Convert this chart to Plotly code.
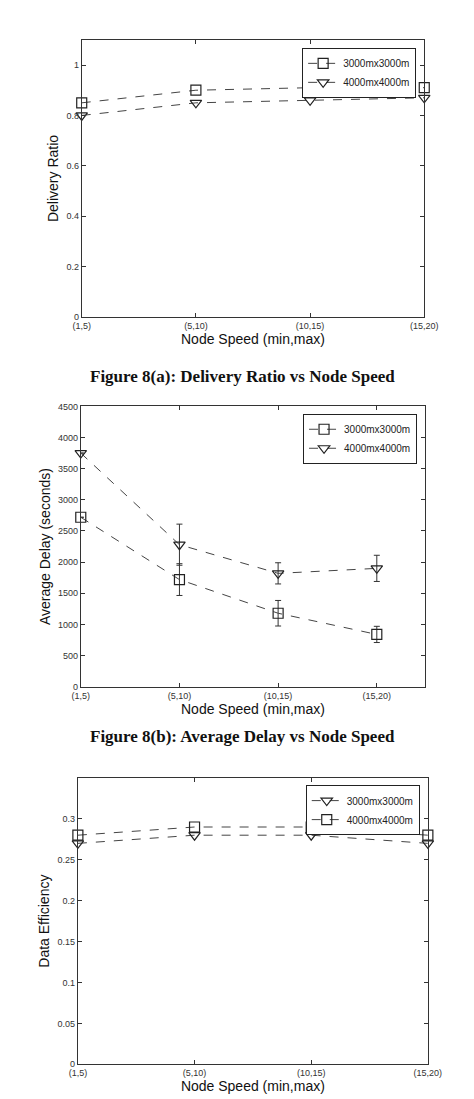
import plotly.graph_objects as go

# Node speed categories
speed_labels = ['(1,5)', '(5,10)', '(10,15)', '(15,20)']
speed_pos = [0, 1, 2, 3]

# Fig 8(a) delivery ratio
ratio_3000 = [0.85, 0.90, 0.91, 0.91]
ratio_4000 = [0.80, 0.85, 0.86, 0.87]

# Fig 8(b) average delay (seconds) with error bars
delay_3000 = [2720, 1720, 1180, 840]
delay_3000_err = [0, 255, 205, 130]
delay_4000 = [3750, 2280, 1820, 1900]
delay_4000_err = [0, 330, 170, 210]

# Fig 8(c) data efficiency
eff_3000 = [0.27, 0.28, 0.28, 0.27]
eff_4000 = [0.28, 0.29, 0.29, 0.28]

FONT = 'Liberation Sans'
line_style = dict(color='#444', width=1, dash='dash')

fig = go.Figure()


def add(x_ax, y_ax, ys, name, sym, err=None, legend='legend'):
    fig.add_trace(go.Scatter(
        x=speed_pos, y=ys, name=name, xaxis=x_ax, yaxis=y_ax,
        mode='lines+markers', line=line_style, cliponaxis=False,
        marker=dict(symbol=sym, size=10, color='rgba(255,255,255,0)',
                    line=dict(color='#222', width=1.2)),
        error_y=dict(type='data', array=err, color='#333', thickness=1, width=3,
                     visible=err is not None),
        legend=legend,
    ))


add('x', 'y', ratio_3000, '3000mx3000m', 'square')
add('x', 'y', ratio_4000, '4000mx4000m', 'triangle-down')
add('x2', 'y2', delay_3000, '3000mx3000m', 'square', delay_3000_err, 'legend2')
add('x2', 'y2', delay_4000, '4000mx4000m', 'triangle-down', delay_4000_err, 'legend2')
add('x3', 'y3', eff_3000, '3000mx3000m', 'triangle-down', legend='legend3')
add('x3', 'y3', eff_4000, '4000mx4000m', 'square', legend='legend3')

axis_common = dict(showline=True, mirror='ticks', linecolor='#333', linewidth=1,
                   ticks='inside', ticklen=4, tickcolor='#333', showgrid=False,
                   zeroline=False, tickfont=dict(family=FONT, size=9, color='#333'))
xaxis_common = dict(axis_common, tickmode='array', tickvals=speed_pos, ticktext=speed_labels,
                    title=dict(text='Node Speed (min,max)', standoff=2,
                               font=dict(family=FONT, size=14, color='#111')))


def ytitle(t):
    return dict(text=t, standoff=4, font=dict(family=FONT, size=14, color='#111'))


leg = dict(bgcolor='white', bordercolor='#222', borderwidth=1, xanchor='right', yanchor='top',
           font=dict(family=FONT, size=10, color='#222'), tracegroupgap=0, itemwidth=30)

fig.update_layout(
    width=474, height=1099, margin=dict(l=0, r=0, t=0, b=0),
    paper_bgcolor='white', plot_bgcolor='white',
    xaxis=dict(xaxis_common, domain=[0.1435, 0.903], range=[0, 3], anchor='y'),
    yaxis=dict(axis_common, domain=[0.7207, 0.9754], range=[0, 1.1],
               tickvals=[0, 0.2, 0.4, 0.6, 0.8, 1], title=ytitle('Delivery Ratio'), anchor='x'),
    xaxis2=dict(xaxis_common, domain=[0.1414, 0.905], range=[0, 3.49], anchor='y2'),
    yaxis2=dict(axis_common, domain=[0.3813, 0.6388], range=[0, 4500], dtick=500,
                title=ytitle('Average Delay (seconds)'), anchor='x2'),
    xaxis3=dict(xaxis_common, domain=[0.135, 0.911], range=[0, 3], anchor='y3'),
    yaxis3=dict(axis_common, domain=[0.0346, 0.2976], range=[0, 0.35],
                tickvals=[0, 0.05, 0.1, 0.15, 0.2, 0.25, 0.3],
                ticktext=['0', '0.05', '0.1', '0.15', '0.2', '0.25', '0.3'],
                title=ytitle('Data Efficiency'), anchor='x3'),
    legend=dict(leg, x=0.885, y=0.968),
    legend2=dict(leg, x=0.887, y=0.632),
    legend3=dict(leg, x=0.893, y=0.291),
)

captions = [('Figure 8(a): Delivery Ratio vs Node Speed', 1 - 355 / 1099),
            ('Figure 8(b): Average Delay vs Node Speed', 1 - 730 / 1099)]
for text, y in captions:
    fig.add_annotation(text='<b>' + text + '</b>', xref='paper', yref='paper', x=0.5, y=y,
                       showarrow=False, font=dict(family='Liberation Serif', size=17, color='#111'))

fig.write_html("out.html")
